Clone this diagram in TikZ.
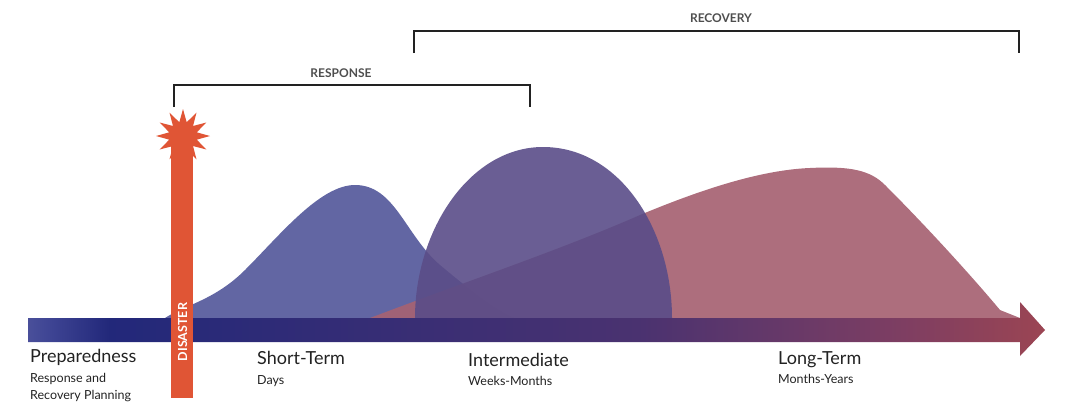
\documentclass[tikz,border=0pt]{standalone}
\usepackage{fontspec}
\setmainfont{Lato}
\usetikzlibrary{shapes.geometric}
\definecolor{txt}{HTML}{222222}
\definecolor{dis}{HTML}{E05535}
\definecolor{bluec}{HTML}{5A5E9E}
\definecolor{purc}{HTML}{5A4D88}
\definecolor{marc}{HTML}{A66272}
\definecolor{sa}{HTML}{B4B6D6}
\definecolor{sb}{HTML}{3F4594}
\definecolor{sc}{HTML}{22287A}
\definecolor{sd}{HTML}{4A3270}
\definecolor{se}{HTML}{7E3E62}
\definecolor{sf}{HTML}{B04A48}
\definecolor{sg}{HTML}{E05535}
\definecolor{sh}{HTML}{F2B29E}
\definecolor{si}{HTML}{FBE8E3}
\pgfdeclarehorizontalshading{band}{100bp}{
color(0bp)=(white);
color(4bp)=(white);
color(15bp)=(sa);
color(26bp)=(sb);
color(29bp)=(sc);
color(55bp)=(sd);
color(68bp)=(se);
color(80bp)=(sf);
color(91bp)=(sg);
color(96bp)=(sh);
color(100bp)=(si)}
\begin{document}
\begin{tikzpicture}[x=1pt,y=-1pt,
  big/.style={anchor=base west,font=\fontsize{18}{20}\selectfont,text=txt,inner sep=0},
  small/.style={anchor=base west,font=\fontsize{12.5}{14}\selectfont,text=txt,inner sep=0},
  head/.style={font=\bfseries\fontsize{12}{14}\selectfont,text=txt!80,inner sep=0},
  brk/.style={draw=txt,line width=1.2pt}]
\useasboundingbox (0,0) rectangle (1066,410);
% curves
\path[fill=bluec,opacity=.95] (165,318) .. controls (185,305) and (215,300) .. (245,270)
  .. controls (280,235) and (320,185) .. (355,185)
  .. controls (395,185) and (405,235) .. (440,265)
  .. controls (470,290) and (495,310) .. (515,318) -- cycle;
\path[fill=marc,opacity=.92] (370,318) .. controls (470,280) and (560,250) .. (640,215)
  .. controls (700,190) and (760,170) .. (810,168)
  .. controls (850,166) and (870,170) .. (885,185)
  .. controls (930,230) and (975,280) .. (1000,310) -- (1020,318) -- cycle;
\path[fill=purc,opacity=.9] (415,318) .. controls (415,230) and (470,147) .. (543,147)
  .. controls (620,147) and (672,230) .. (672,318) -- cycle;
% band arrow
\shade[shading=band] (28,318) -- (1020,318) -- (1020,302) -- (1045,330) -- (1020,356) -- (1020,342) -- (28,342) -- cycle;
% disaster
\node[star,star points=12,star point ratio=1.9,fill=dis,minimum size=54pt,inner sep=0] (burst) at (183,136) {};
\path[fill=dis] (171,138) rectangle (193,398);
\node[rotate=90,font=\bfseries\fontsize{12.5}{14}\selectfont,text=white,inner sep=0] (dl) at (182.5,332) {DISASTER};
% brackets
\coordinate (r1) at (174,107); \coordinate (r2) at (530,107);
\draw[brk] (r1) -- (174,85) -- (530,85) -- (r2);
\coordinate (c1) at (414,53); \coordinate (c2) at (1019,53);
\draw[brk] (c1) -- (414,31) -- (1019,31) -- (c2);
\node[head] (resp) at (341,73) {RESPONSE};
\node[head] (rec) at (721,18) {RECOVERY};
% labels
\node[big] (p) at (30,362) {Preparedness};
\node[small] (p2) at (30,382) {Response and};
\node[small] (p3) at (30,399) {Recovery Planning};
\node[big] (s) at (257,364) {Short-Term};
\node[small] (s2) at (257,384) {Days};
\node[big] (i) at (468,366) {Intermediate};
\node[small] (i2) at (468,385) {Weeks-Months};
\node[big] (l) at (778,364) {Long-Term};
\node[small] (l2) at (778,383) {Months-Years};
\end{tikzpicture}
\end{document}
